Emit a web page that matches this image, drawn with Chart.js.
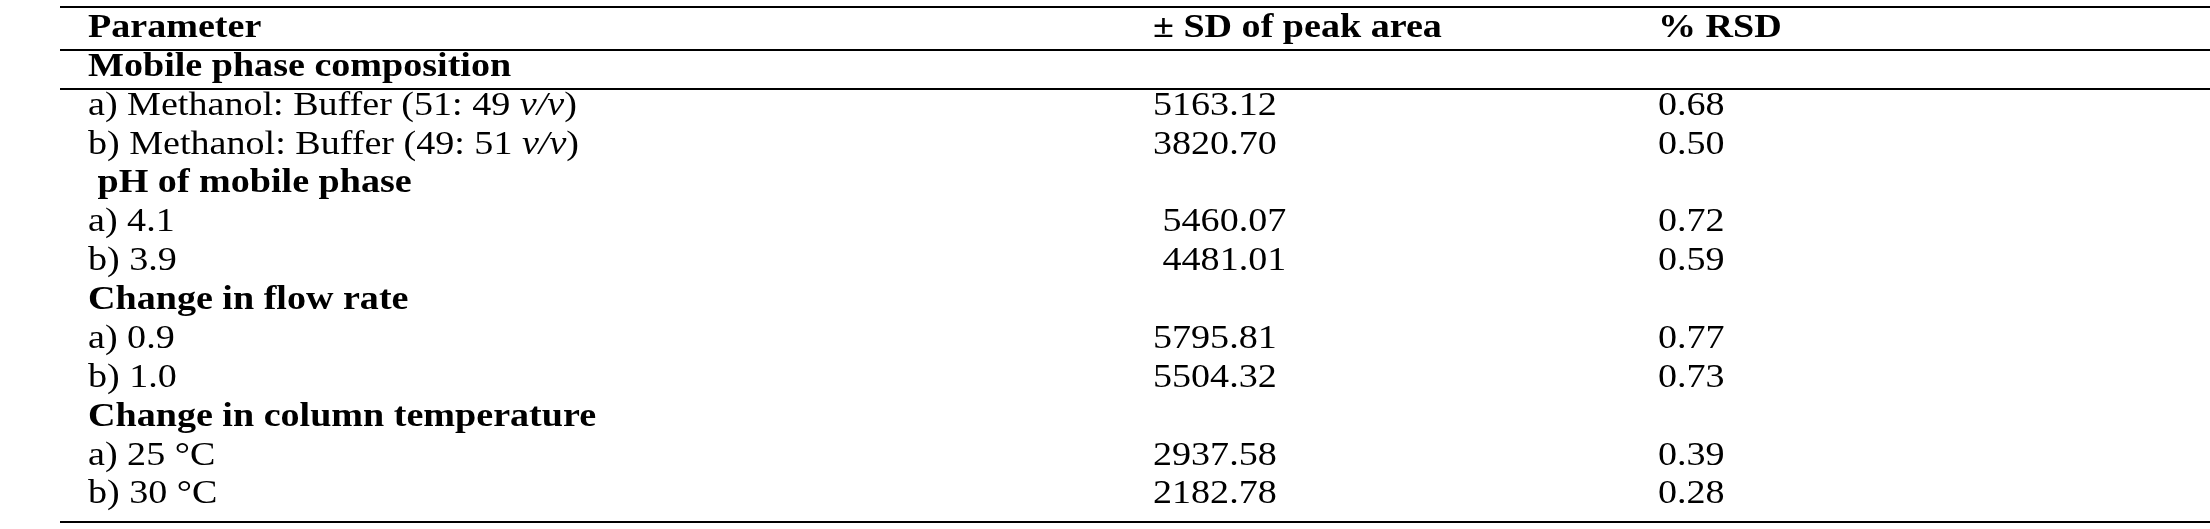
<!DOCTYPE html>
<html><head><meta charset="utf-8">
<script src="https://cdn.jsdelivr.net/npm/chart.js@4"></script>
<style>html,body{margin:0;padding:0;background:#fff}#w{width:2210px;height:529px}</style>
</head><body><div id="w"><canvas id="c"></canvas></div>
<script>
const headers = ["Parameter", "\u00B1 SD of peak area", "% RSD"];
const parameters = ["Mobile phase composition","a) Methanol: Buffer (51: 49 v/v)","b) Methanol: Buffer (49: 51 v/v)"," pH of mobile phase","a) 4.1","b) 3.9","Change in flow rate","a) 0.9","b) 1.0","Change in column temperature","a) 25 \u00B0C","b) 30 \u00B0C"];
const sdValues = ["","5163.12","3820.70",""," 5460.07"," 4481.01","","5795.81","5504.32","","2937.58","2182.78"];
const rsdValues = ["","0.68","0.50","","0.72","0.59","","0.77","0.73","","0.39","0.28"];
const groupRows = [0,3,6,9];

const colX = [88, 1153, 1658];
const FONT = '"Liberation Serif", serif';
const SIZE = 34;
const HSCALE = 1.12;

const tablePlugin = {
  id:'table',
  afterDraw(chart){
    const ctx = chart.ctx, x = chart.scales.x, y = chart.scales.y;
    ctx.save();
    ctx.fillStyle = '#000'; ctx.textBaseline = 'middle';
    const txt = (t, px, py) => {
      ctx.save(); ctx.translate(px, py); ctx.scale(HSCALE, 1);
      ctx.fillText(t, 0, 0); ctx.restore();
      return ctx.measureText(t).width * HSCALE;
    };
    const row = (i, cells, bold) => {
      cells.forEach((t, k) => {
        if (!t) return;
        ctx.font = (bold ? 'bold ' : '') + SIZE + 'px ' + FONT;
        const px = x.getPixelForValue(colX[k]), py = y.getPixelForValue(i);
        if (k === 0 && /v\/v/.test(t)) {
          const idx = t.indexOf('v/v');
          const a = t.slice(0, idx), b = t.slice(idx + 3);
          let w = txt(a, px, py);
          ctx.font = 'italic ' + SIZE + 'px ' + FONT;
          w += txt('v/v', px + w, py);
          ctx.font = SIZE + 'px ' + FONT;
          txt(b, px + w, py);
        } else txt(t, px, py);
      });
    };
    row(0, headers, true);
    parameters.forEach((p, i) => {
      const g = groupRows.includes(i);
      row(i + 1, g ? [p, '', ''] : [p, sdValues[i], rsdValues[i]], g);
    });
    ctx.strokeStyle = '#000'; ctx.lineWidth = 2;
    const x0 = x.getPixelForValue(60), x1 = x.getPixelForValue(2210);
    [-0.53, 0.56, 1.57, 12.7].forEach(v => {
      const py = Math.round(y.getPixelForValue(v));
      ctx.beginPath(); ctx.moveTo(x0, py); ctx.lineTo(x1, py); ctx.stroke();
    });
    ctx.restore();
  }
};

new Chart(document.getElementById('c'), {
  type:'scatter',
  data:{datasets:[{data: parameters.map((p,i)=>({x:colX[0], y:i+1})), pointRadius:0}]},
  options:{
    responsive:true, maintainAspectRatio:false, animation:false,
    layout:{padding:{top:8.5,bottom:15,left:0,right:0}},
    plugins:{legend:{display:false},tooltip:{enabled:false}},
    scales:{
      x:{type:'linear',min:0,max:2210,display:false},
      y:{type:'linear',min:-0.5,max:12.5,reverse:true,display:false}
    }
  },
  plugins:[tablePlugin]
});
</script></body></html>
